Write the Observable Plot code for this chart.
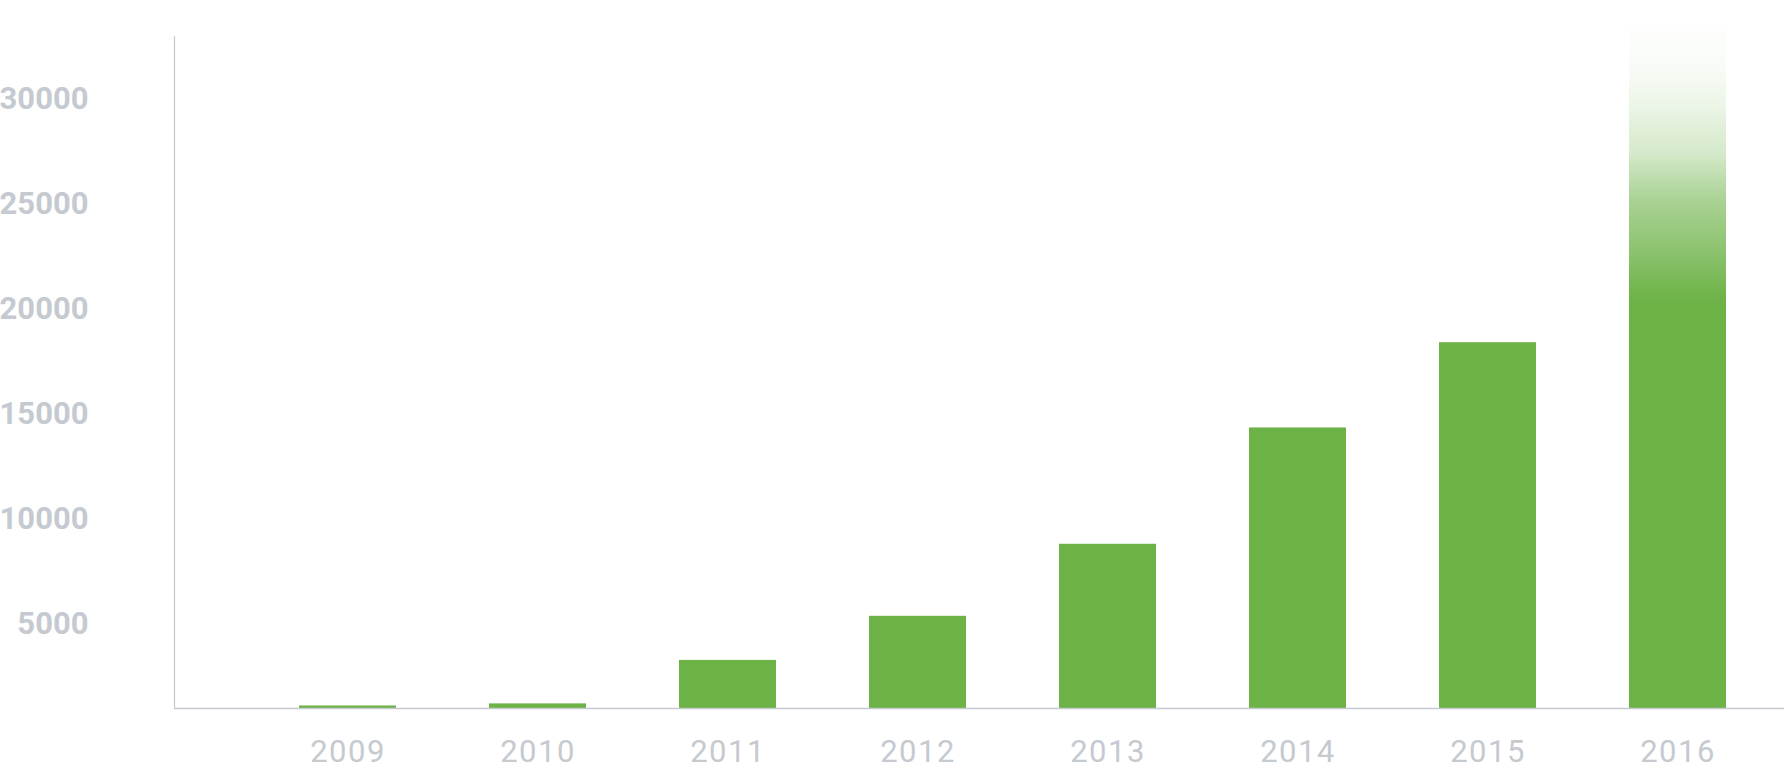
<!DOCTYPE html>
<html>
<head>
<meta charset="utf-8">
<script src="https://cdn.jsdelivr.net/npm/d3@7"></script>
<script src="https://cdn.jsdelivr.net/npm/@observablehq/plot@0.6"></script>
<style>
  html, body { margin: 0; padding: 0; background: #ffffff; }
  #chart { width: 1784px; height: 769px; overflow: hidden; }
</style>
</head>
<body>
<div id="chart"></div>
<script>
const years = ["2009", "2010", "2011", "2012", "2013", "2014", "2015", "2016"];
const values = [120, 220, 2290, 4390, 7820, 13360, 17420, 32900];
const yTicks = [5000, 10000, 15000, 20000, 25000, 30000];
const fadedYears = ["2016"];

const data = years.map((year, i) => ({year, value: values[i]}));
const solid = data.filter(d => !fadedYears.includes(d.year));
const faded = data.filter(d => fadedYears.includes(d.year));

const green = "#6cb246";
const gray = "#c5cad0";

const plot = Plot.plot({
  width: 1784,
  height: 769,
  marginLeft: 174,
  marginRight: 0,
  marginTop: 36,
  marginBottom: 61,
  style: {fontFamily: "Roboto, sans-serif", background: "#ffffff"},
  x: {domain: years, paddingInner: 0.49, paddingOuter: 0.46, align: 0.683, label: null},
  y: {domain: [0, 32000], label: null},
  marks: [
    Plot.barY(solid, {x: "year", y: "value", fill: green}),
    Plot.barY(faded, {x: "year", y: "value", fill: "url(#fade)"}),
    Plot.ruleY([0], {stroke: gray, strokeWidth: 1.5}),
    Plot.frame({anchor: "left", stroke: gray, strokeWidth: 1.2}),
    Plot.axisY({ticks: yTicks, tickSize: 0, tickPadding: 86, dy: 21, fontSize: 31, fontWeight: "bold", fill: gray, tickFormat: d => String(d), label: null}),
    Plot.axisX({tickSize: 0, tickPadding: 31, fontSize: 31, fill: gray, label: null})
  ]
});

// gradient for the faded top bar
const svgEl = plot.tagName.toLowerCase() === "svg" ? plot : plot.querySelector("svg");
const svg = d3.select(svgEl);
const defs = svg.insert("defs", ":first-child");
const grad = defs.append("linearGradient")
  .attr("id", "fade").attr("x1", 0).attr("y1", 0).attr("x2", 0).attr("y2", 1);
const stops = [[0, 0], [0.075, 0.05], [0.123, 0.12], [0.195, 0.28], [0.267, 0.59], [0.339, 0.78], [0.40, 0.97], [0.42, 1], [1, 1]];
stops.forEach(([o, a]) => grad.append("stop").attr("offset", o).attr("stop-color", green).attr("stop-opacity", a));
svg.selectAll('g[aria-label="x-axis tick label"] text').attr("letter-spacing", "1.5px");

document.getElementById("chart").appendChild(plot);
</script>
</body>
</html>
